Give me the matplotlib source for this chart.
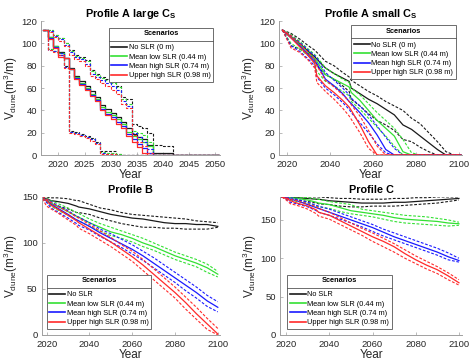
import matplotlib
matplotlib.use("Agg")
import matplotlib.pyplot as plt
from matplotlib.lines import Line2D

plt.rcParams['font.family'] = ['Liberation Sans', 'DejaVu Sans']
plt.rcParams['mathtext.fontset'] = 'custom'
plt.rcParams['mathtext.rm'] = 'Liberation Sans'
plt.rcParams['mathtext.bf'] = 'Liberation Sans:bold'
plt.rcParams['mathtext.it'] = 'Liberation Sans:italic'
plt.rcParams['mathtext.default'] = 'regular'

# ---- Profile A large Cs (yearly stairs, 2017..2051) ----
yrs_a1 = list(range(2017, 2052))
a1_no = [112, 106, 98, 92, 87, 78, 71, 66, 62, 57, 52, 45, 41, 38, 34, 30, 24, 19, 16, 14, 9, 2, 2, 2, 2] + [0] * 10
a1_no_hi = [112, 112, 108, 105, 100, 94, 90, 88, 85, 76, 73, 70, 68, 66, 62, 52, 50, 28, 26, 24, 20, 9, 9, 8, 8] + [0] * 10
a1_no_lo = [112, 95, 93, 92, 80, 22, 21, 19, 17, 15, 12, 4, 4, 4, 1] + [0] * 20
a1_low = [112, 106, 98, 91, 87, 77, 70, 65, 60, 55, 50, 43, 39, 36, 32, 28, 21, 17, 14, 12, 8] + [0] * 14
a1_low_hi = [112, 112, 108, 105, 100, 93, 89, 87, 84, 75, 72, 69, 67, 65, 61, 50, 46, 22, 20, 18, 12] + [0] * 14
a1_low_lo = [112, 95, 93, 91, 79, 21, 20, 18, 16, 14, 11, 3, 2, 2, 1] + [0] * 20
a1_high = [112, 105, 97, 90, 87, 77, 69, 64, 59, 54, 49, 41, 37, 34, 30, 26, 19, 14, 10, 6, 2] + [0] * 14
a1_high_hi = [112, 111, 107, 104, 99, 92, 88, 86, 82, 73, 70, 67, 65, 62, 58, 48, 44, 20, 16, 12, 5] + [0] * 14
a1_high_lo = [112, 94, 93, 91, 79, 21, 20, 18, 16, 14, 11, 2, 1, 1, 0] + [0] * 20
a1_up = [112, 104, 96, 88, 87, 77, 68, 63, 58, 53, 48, 40, 36, 32, 28, 24, 17, 12, 7, 2] + [0] * 15
a1_up_hi = [112, 110, 106, 102, 98, 90, 86, 84, 80, 71, 68, 65, 62, 58, 55, 46, 42, 18, 12, 8, 2] + [0] * 14
a1_up_lo = [112, 94, 92, 90, 78, 20, 19, 17, 15, 13, 10, 1, 1, 1, 0] + [0] * 20

# ---- Profile A small Cs ----
yrs_a2 = [2018, 2022, 2026, 2030, 2033, 2034, 2038, 2042, 2046, 2049, 2050, 2054,
          2058, 2062, 2066, 2070, 2074, 2078, 2082, 2086, 2090, 2094, 2098, 2101]
a2_no = [112, 106, 100, 93, 88, 86, 78, 73, 69, 66, 60, 55, 50, 46, 41, 36, 27, 23, 17, 11, 5, 0, 0, 0]
a2_no_hi = [112, 109, 104, 98, 94, 92, 84, 80, 74, 70, 67, 62, 57, 53, 48, 44, 40, 33, 28, 20, 12, 3, 0, 0]
a2_no_lo = [112, 98, 95, 91, 86, 80, 72, 68, 62, 57, 50, 44, 37, 31, 27, 22, 14, 12, 7, 3, 0, 0, 0, 0]
a2_low = [112, 106, 99, 92, 86, 84, 72, 68, 64, 61, 56, 49, 40, 31, 24, 17, 3, 0, 0, 0, 0, 0, 0, 0]
a2_low_hi = [112, 108, 102, 95, 90, 88, 78, 73, 68, 65, 60, 54, 46, 38, 31, 24, 14, 2, 0, 0, 0, 0, 0, 0]
a2_low_lo = [112, 100, 95, 89, 83, 75, 66, 62, 57, 53, 48, 41, 33, 25, 17, 8, 0, 0, 0, 0, 0, 0, 0, 0]
a2_high = [112, 105, 98, 90, 84, 82, 68, 62, 55, 48, 46, 38, 29, 18, 5, 0, 0, 0, 0, 0, 0, 0, 0, 0]
a2_high_hi = [112, 107, 101, 94, 89, 87, 74, 67, 60, 54, 51, 44, 36, 26, 16, 6, 0, 0, 0, 0, 0, 0, 0, 0]
a2_high_lo = [112, 98, 93, 86, 80, 70, 60, 54, 47, 41, 38, 29, 20, 10, 2, 0, 0, 0, 0, 0, 0, 0, 0, 0]
a2_up = [112, 105, 97, 89, 82, 71, 62, 56, 49, 43, 40, 27, 12, 0, 0, 0, 0, 0, 0, 0, 0, 0, 0, 0]
a2_up_hi = [112, 107, 100, 92, 86, 80, 67, 61, 54, 48, 45, 35, 22, 8, 0, 0, 0, 0, 0, 0, 0, 0, 0, 0]
a2_up_lo = [112, 96, 92, 85, 78, 65, 57, 50, 42, 35, 32, 20, 6, 0, 0, 0, 0, 0, 0, 0, 0, 0, 0, 0]

# ---- Profile B and C ----
yrs_bc = [2018, 2020, 2022, 2025, 2030, 2034, 2035, 2040, 2045, 2050,
          2055, 2060, 2065, 2070, 2075, 2080, 2085, 2090, 2095, 2100]
b_no = [148, 148, 146, 145, 143, 140, 139, 137, 134, 131, 129, 127, 126, 124, 122, 121, 121, 120, 120, 118]
b_no_hi = [150, 150, 149, 149, 148, 146, 146, 142, 138, 136, 133, 131, 130, 129, 128, 127, 126, 124, 123, 122]
b_no_lo = [148, 146, 143, 140, 137, 133, 133, 131, 127, 124, 121, 119, 117, 117, 116, 116, 115, 115, 115, 117]
b_low = [148, 147, 143, 140, 134, 129, 128, 122, 117, 112, 109, 105, 100, 96, 91, 86, 82, 78, 73, 66]
b_low_hi = [150, 149, 146, 143, 138, 133, 132, 126, 121, 117, 113, 109, 105, 100, 95, 90, 86, 82, 77, 69]
b_low_lo = [148, 145, 140, 136, 130, 125, 124, 118, 113, 108, 105, 101, 96, 92, 87, 82, 78, 74, 68, 63]
b_high = [148, 146, 142, 138, 131, 125, 124, 118, 111, 105, 99, 93, 86, 78, 70, 62, 54, 46, 37, 30]
b_high_hi = [150, 148, 145, 141, 135, 129, 128, 122, 115, 110, 104, 98, 91, 84, 76, 68, 60, 52, 43, 36]
b_high_lo = [148, 144, 138, 134, 127, 121, 119, 114, 107, 101, 95, 88, 81, 73, 65, 57, 48, 40, 31, 25]
b_up = [148, 146, 141, 137, 130, 124, 122, 115, 108, 101, 93, 85, 76, 66, 56, 46, 35, 23, 12, 1]
b_up_hi = [150, 148, 144, 140, 134, 128, 127, 120, 113, 106, 98, 91, 82, 72, 62, 52, 41, 30, 18, 7]
b_up_lo = [148, 140, 137, 133, 125, 119, 116, 110, 103, 96, 88, 80, 70, 60, 50, 40, 28, 17, 6, 0]

c_no = [180, 180, 180, 179, 178, 177, 177, 175, 174, 173, 172, 172, 172, 173, 173, 174, 175, 176, 177, 178]
c_no_hi = [180, 180, 180, 180, 180, 180, 180, 179, 178, 178, 177, 177, 177, 178, 178, 179, 179, 180, 180, 180]
c_no_lo = [180, 178, 177, 176, 174, 172, 171, 170, 168, 167, 167, 168, 168, 168, 169, 170, 171, 172, 174, 176]
c_low = [180, 180, 179, 178, 176, 173, 172, 170, 166, 162, 160, 158, 156, 153, 151, 150, 149, 148, 146, 145]
c_low_hi = [180, 180, 180, 180, 179, 177, 177, 174, 172, 170, 164, 162, 160, 158, 156, 155, 154, 152, 150, 147]
c_low_lo = [180, 178, 176, 174, 172, 168, 167, 165, 161, 158, 156, 154, 151, 148, 146, 145, 144, 143, 142, 143]
c_high = [180, 179, 177, 175, 170, 166, 165, 160, 155, 150, 145, 140, 134, 128, 123, 118, 113, 108, 102, 97]
c_high_hi = [180, 180, 179, 177, 173, 169, 168, 164, 159, 154, 149, 144, 138, 133, 128, 123, 118, 113, 107, 100]
c_high_lo = [180, 177, 173, 171, 167, 162, 160, 156, 151, 146, 141, 135, 129, 124, 119, 114, 109, 104, 98, 95]
c_up = [180, 178, 175, 172, 168, 163, 160, 156, 149, 142, 135, 128, 122, 115, 106, 98, 91, 85, 77, 68]
c_up_hi = [180, 179, 177, 175, 171, 167, 165, 160, 153, 146, 139, 133, 126, 119, 111, 103, 96, 89, 81, 72]
c_up_lo = [180, 176, 171, 169, 164, 158, 155, 151, 144, 137, 130, 122, 115, 108, 100, 93, 86, 80, 72, 65]

colors = ['#1a1a1a', '#33e033', '#1a1aff', '#ff2a2a']
labels_a = ['No SLR (0 m)', 'Mean low SLR (0.44 m)', 'Mean high SLR (0.74 m)', 'Upper high SLR (0.98 m)']
labels_b = ['No SLR', 'Mean low SLR (0.44 m)', 'Mean high SLR (0.74 m)', 'Upper high SLR (0.98 m)']

fig = plt.figure(figsize=(4.74, 3.64), dpi=100)
ax1 = fig.add_axes([0.087, 0.574, 0.378, 0.368])
ax2 = fig.add_axes([0.589, 0.574, 0.386, 0.368])
ax3 = fig.add_axes([0.088, 0.080, 0.376, 0.379])
ax4 = fig.add_axes([0.591, 0.080, 0.384, 0.379])

panels = [
    (ax1, yrs_a1, [(a1_no, a1_no_hi, a1_no_lo), (a1_low, a1_low_hi, a1_low_lo),
                   (a1_high, a1_high_hi, a1_high_lo), (a1_up, a1_up_hi, a1_up_lo)], 'steps-post'),
    (ax2, yrs_a2, [(a2_no, a2_no_hi, a2_no_lo), (a2_low, a2_low_hi, a2_low_lo),
                   (a2_high, a2_high_hi, a2_high_lo), (a2_up, a2_up_hi, a2_up_lo)], 'default'),
    (ax3, yrs_bc, [(b_no, b_no_hi, b_no_lo), (b_low, b_low_hi, b_low_lo),
                   (b_high, b_high_hi, b_high_lo), (b_up, b_up_hi, b_up_lo)], 'default'),
    (ax4, yrs_bc, [(c_no, c_no_hi, c_no_lo), (c_low, c_low_hi, c_low_lo),
                   (c_high, c_high_hi, c_high_lo), (c_up, c_up_hi, c_up_lo)], 'default'),
]

handles = {}
for ax, yrs, series, ds in panels:
    hs = []
    for (mean, hi, lo), c in zip(series, colors):
        h, = ax.plot(yrs, mean, color=c, lw=0.9, drawstyle=ds)
        ax.plot(yrs, hi, color=c, lw=0.8, ls=(0, (2.5, 1.5)), drawstyle=ds)
        ax.plot(yrs, lo, color=c, lw=0.8, ls=(0, (2.5, 1.5)), drawstyle=ds)
        hs.append(h)
    handles[ax] = hs

titles = ['Profile A large C$_\\mathbf{S}$', 'Profile A small C$_\\mathbf{S}$', 'Profile B', 'Profile C']
for ax, t in zip([ax1, ax2, ax3, ax4], titles):
    ax.set_title(t, fontsize=7.8, fontweight='bold', pad=3)
    ax.set_xlabel('Year', fontsize=8.5, color='#262626', labelpad=0)
    ax.set_ylabel('V$_{dune}$(m$^3$/m)', fontsize=8.5, color='#262626', labelpad=1)
    for s in ['top', 'right']:
        ax.spines[s].set_visible(False)
    for s in ['left', 'bottom']:
        ax.spines[s].set_color('#a0a0a0')
        ax.spines[s].set_linewidth(0.7)
    ax.tick_params(direction='in', length=2, width=0.5, colors='#a0a0a0',
                   labelcolor='#262626', labelsize=6.8)
    ax.tick_params(axis='x', pad=3.5)
    ax.tick_params(axis='y', pad=3)

ax1.set_xlim(2016.7, 2051)
ax1.set_xticks([2020, 2025, 2030, 2035, 2040, 2045, 2050])
ax1.set_ylim(0, 120)
ax1.set_yticks([0, 20, 40, 60, 80, 100, 120])
ax2.set_xlim(2016.5, 2101.5)
ax2.set_xticks([2020, 2040, 2060, 2080, 2100])
ax2.set_ylim(0, 120)
ax2.set_yticks([0, 20, 40, 60, 80, 100, 120])
ax3.set_xlim(2017.7, 2101)
ax3.set_xticks([2020, 2040, 2060, 2080, 2100])
ax3.set_ylim(0, 150)
ax3.set_yticks([0, 50, 100, 150])
ax4.set_xlim(2017.2, 2101.5)
ax4.set_xticks([2020, 2040, 2060, 2080, 2100])
ax4.set_ylim(0, 180)
ax4.set_yticks([0, 50, 100, 150])

legs = []
leg_spec = [(ax1, labels_a, 'upper right', (0.96, 0.95)),
            (ax2, labels_a, 'upper right', (0.965, 0.97)),
            (ax3, labels_b, 'lower left', (0.028, 0.045)),
            (ax4, labels_b, 'lower left', (0.038, 0.045))]
for ax, labs, loc, anchor in leg_spec:
    leg = ax.legend(handles[ax], labs, loc=loc, bbox_to_anchor=anchor, fontsize=5.3,
                    title='Scenarios', title_fontproperties={'weight': 'bold', 'size': 5.3},
                    fancybox=False, framealpha=1, edgecolor='#555555', handlelength=2.2,
                    handletextpad=0.2, labelspacing=0.28, borderpad=0.35, borderaxespad=0)
    leg.get_frame().set_linewidth(0.6)
    leg._legend_box.sep = 5
    for ln in leg.get_lines():
        ln.set_linewidth(1.2)
    legs.append(leg)

fig.canvas.draw()
inv = fig.transFigure.inverted()
for leg in legs:
    fb = leg.get_frame().get_window_extent()
    tb = leg.get_title().get_window_extent()
    first = leg.get_texts()[0].get_window_extent()
    ysep = 0.5 * (tb.y0 + first.y1)
    (x0, y0) = inv.transform((fb.x0, ysep))
    (x1, _) = inv.transform((fb.x1, ysep))
    fig.add_artist(Line2D([x0, x1], [y0, y0], transform=fig.transFigure, color='#555555', lw=0.6))

fig.savefig('out.png', dpi=100)
